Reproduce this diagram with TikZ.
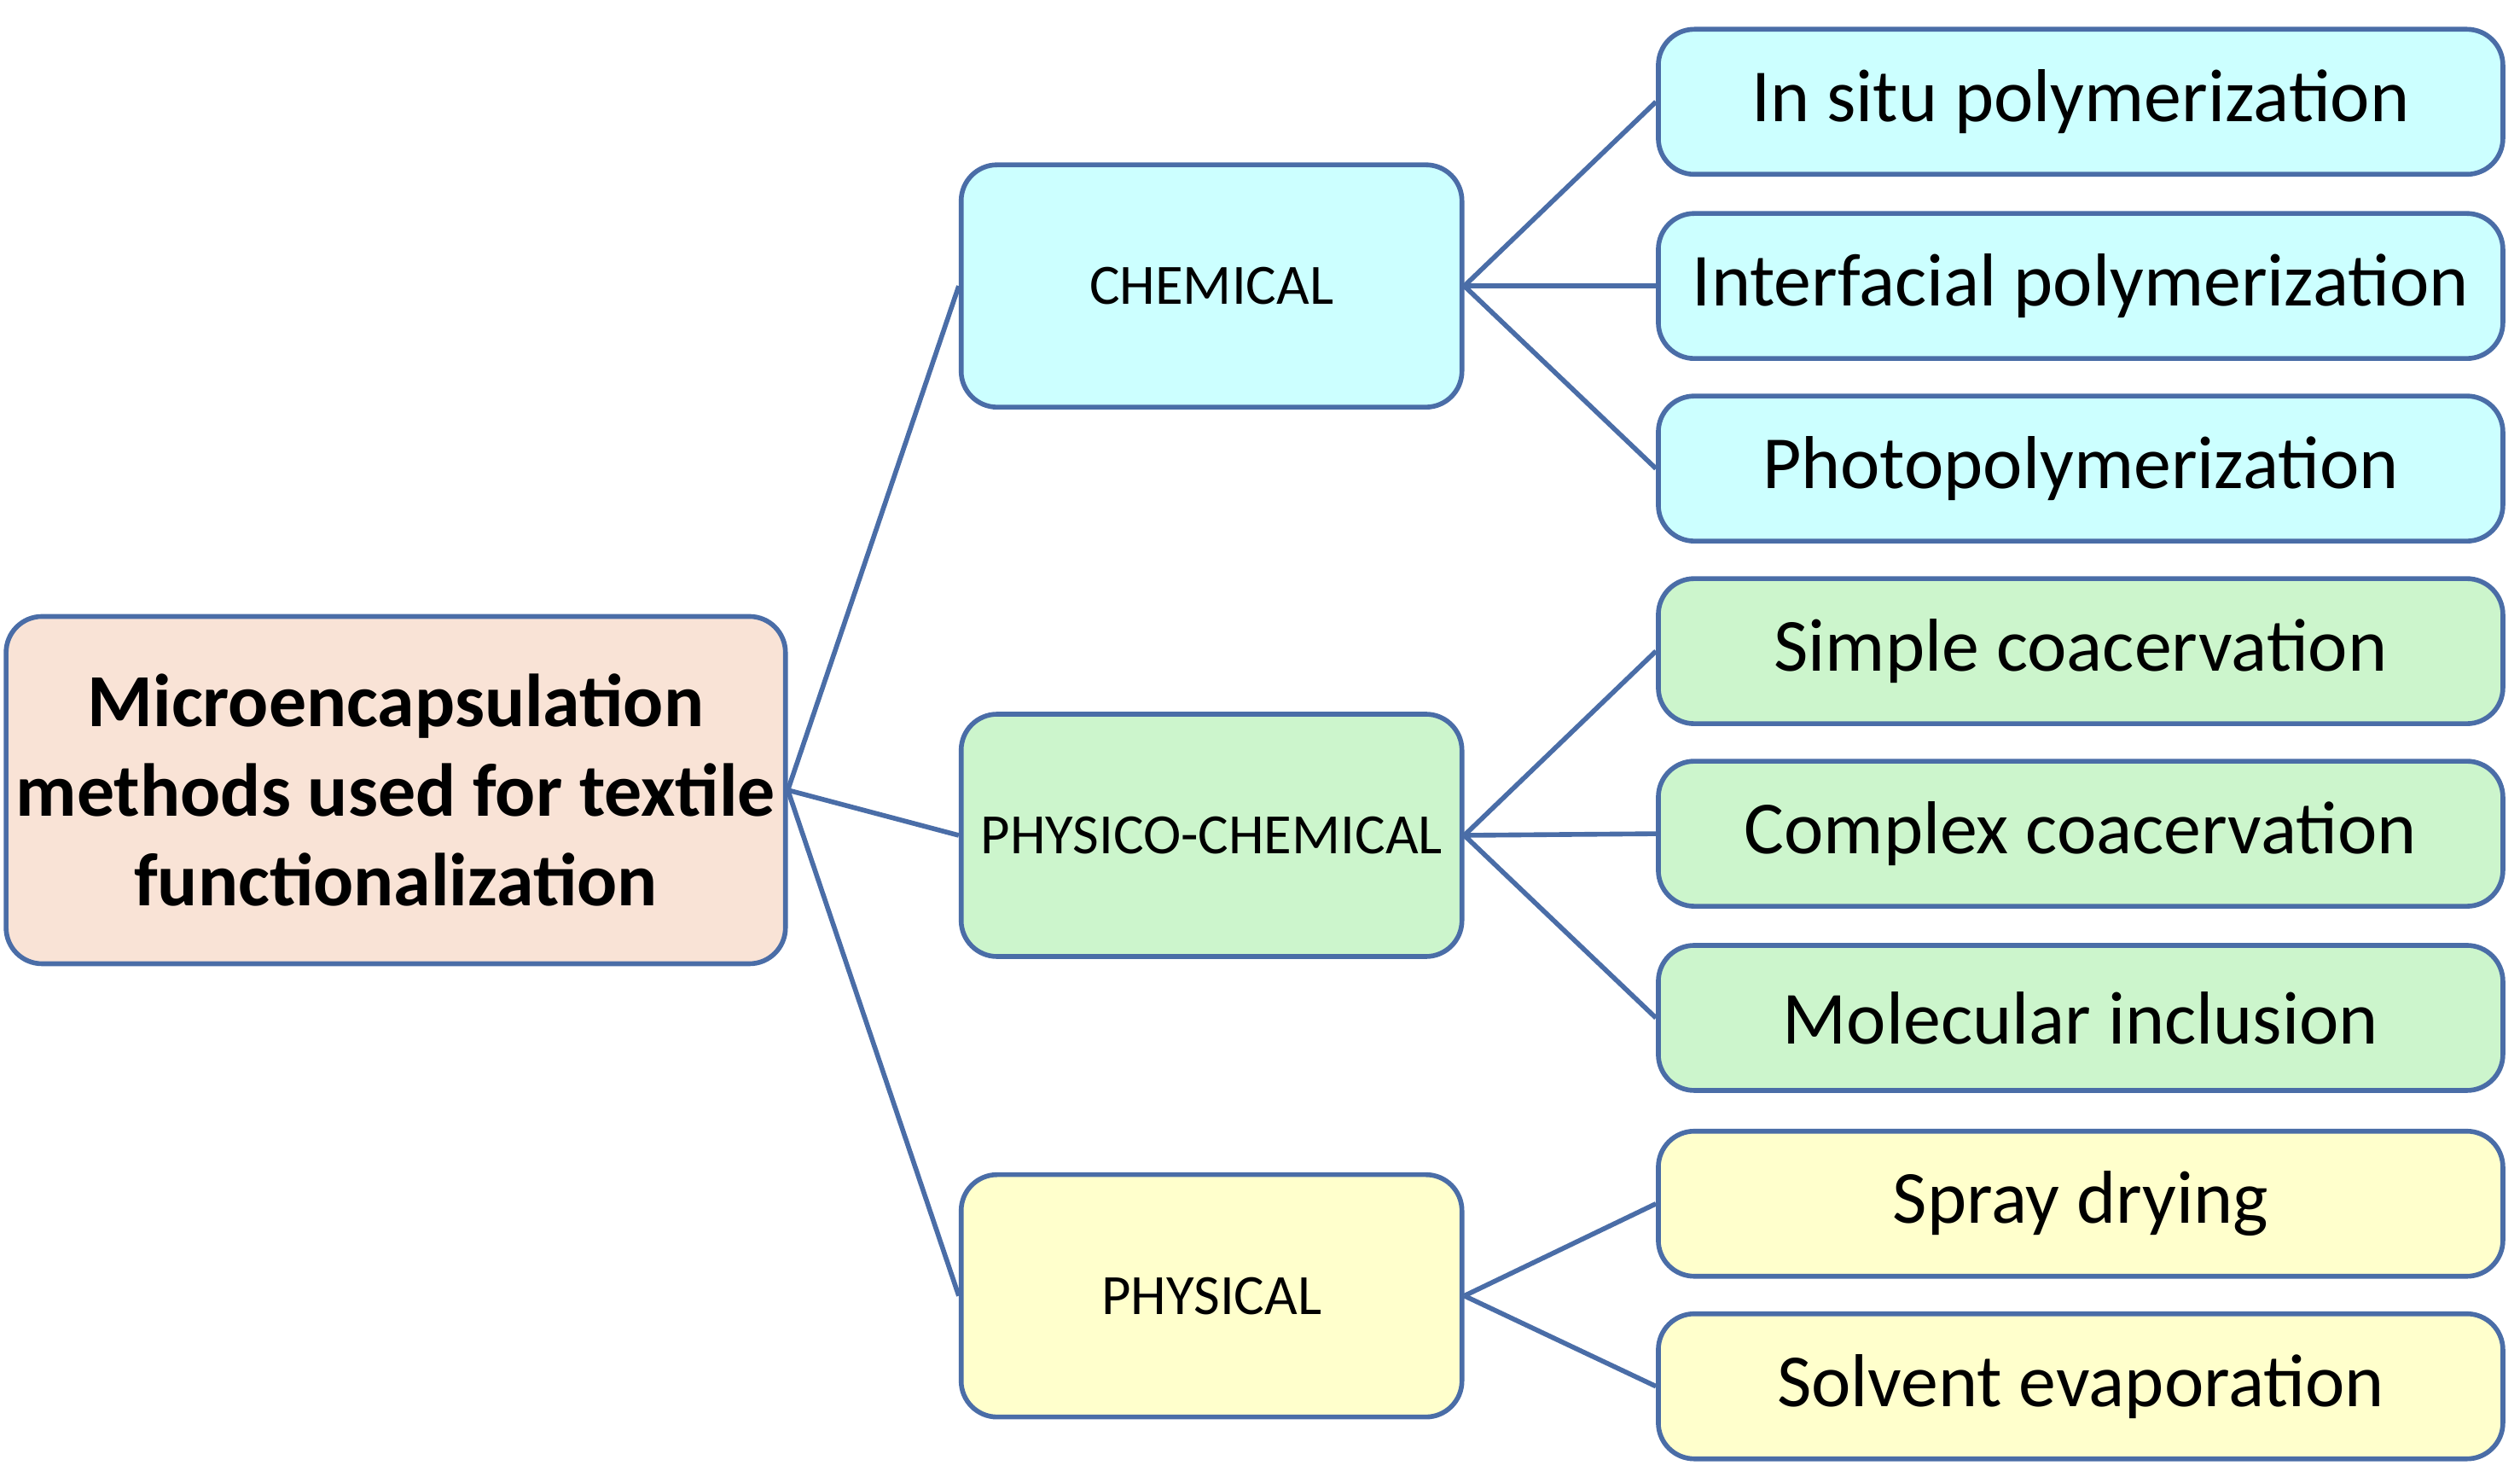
\documentclass[tikz,border=0pt]{standalone}
\usepackage{fontspec}
\setmainfont{Carlito}
\definecolor{edgeblue}{HTML}{4A6DA7}
\definecolor{rootfill}{HTML}{F9E3D6}
\definecolor{chemfill}{HTML}{CCFFFF}
\definecolor{physchemfill}{HTML}{CCF5CC}
\definecolor{physfill}{HTML}{FFFFCC}
\tikzset{
  box/.style={draw=edgeblue, line width=1.6pt, rounded corners=12pt, align=center},
  rootbox/.style={box, fill=rootfill, minimum width=8.6cm, minimum height=4.07cm, font=\fontsize{25}{30}\selectfont\bfseries},
  midbox/.style={box, minimum width=5.87cm, minimum height=2.84cm, font=\fontsize{19}{23}\selectfont},
  leafbox/.style={box, minimum width=9.9cm, minimum height=1.70cm, font=\fontsize{25}{30}\selectfont},
  link/.style={draw=edgeblue, line width=1.6pt}
}
\begin{document}
\begin{tikzpicture}[x=0.01894cm,y=-0.01894cm]
   \useasboundingbox (0,0) rectangle (1560,914);
   % root
   \node[rootbox] (root) at (245,489) {Microencapsulation\\methods used for textile\\functionalization};
   % middle level
   \node[midbox, fill=chemfill] (chem) at (750,177) {CHEMICAL};
   \node[midbox, fill=physchemfill] (physchem) at (750,517) {PHYSICO-CHEMICAL};
   \node[midbox, fill=physfill] (phys) at (750,802) {PHYSICAL};
   % leaves
   \node[leafbox, fill=chemfill] (insitu) at (1288,63) {In situ polymerization};
   \node[leafbox, fill=chemfill] (interf) at (1288,177) {Interfacial polymerization};
   \node[leafbox, fill=chemfill] (photo) at (1288,290) {Photopolymerization};
   \node[leafbox, fill=physchemfill] (simple) at (1288,403) {Simple coacervation};
   \node[leafbox, fill=physchemfill] (complex) at (1288,516) {Complex coacervation};
   \node[leafbox, fill=physchemfill] (molec) at (1288,630) {Molecular inclusion};
   \node[leafbox, fill=physfill] (spray) at (1288,745) {Spray drying};
   \node[leafbox, fill=physfill] (solvent) at (1288,858) {Solvent evaporation};
   % connectors
   \foreach \m in {chem,physchem,phys}
     \draw[link] (root.east) -- (\m.west);
   \foreach \l in {insitu,interf,photo}
     \draw[link] (chem.east) -- (\l.west);
   \foreach \l in {simple,complex,molec}
     \draw[link] (physchem.east) -- (\l.west);
   \foreach \l in {spray,solvent}
     \draw[link] (phys.east) -- (\l.west);
\end{tikzpicture}
\end{document}
